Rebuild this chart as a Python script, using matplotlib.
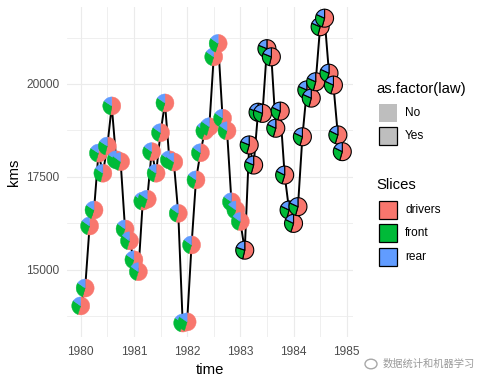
import numpy as np
import matplotlib
matplotlib.use("Agg")
import matplotlib.pyplot as plt
from matplotlib.patches import Wedge, Rectangle, Circle
from matplotlib.transforms import ScaledTranslation

# Seatbelts, Jan 1980 - Dec 1984 (monthly)
years = [1980, 1981, 1982, 1983, 1984]
kms = [
    14030, 14510, 16180, 16610, 18140, 17600, 18330, 19410, 17960, 17910, 16100, 15780,
    15270, 14950, 16850, 16900, 18180, 17600, 18690, 19490, 17960, 17900, 16520, 13570,
    13600, 15670, 17420, 18150, 18740, 18850, 20730, 21090, 19080, 18740, 16830, 16610,
    16300, 15530, 18360, 17820, 19240, 19210, 20950, 20730, 18810, 19270, 17550, 16610,
    16250, 16700, 18580, 19840, 19620, 20060, 21540, 21770, 20290, 19970, 18630, 18180,
]
drivers = [
    1665, 1361, 1506, 1360, 1453, 1522, 1460, 1552, 1548, 1827, 1737, 1941,
    1474, 1458, 1542, 1404, 1522, 1385, 1641, 1510, 1681, 1938, 1868, 1726,
    1456, 1445, 1456, 1365, 1487, 1558, 1488, 1684, 1594, 1850, 1998, 2079,
    1494, 1057, 1218, 1168, 1236, 1076, 1174, 1139, 1427, 1487, 1483, 1513,
    1357, 1165, 1282, 1110, 1297, 1185, 1222, 1284, 1444, 1575, 1737, 1763,
]
front = [
    900, 750, 820, 720, 800, 850, 820, 950, 900, 1020, 960, 1090,
    810, 800, 850, 760, 840, 760, 900, 830, 920, 1060, 1020, 950,
    800, 790, 800, 750, 820, 860, 820, 930, 880, 1020, 1090, 1140,
    820, 520, 600, 580, 620, 540, 600, 580, 720, 760, 750, 770,
    680, 590, 650, 560, 660, 600, 620, 650, 730, 790, 880, 900,
]
rear = [
    460, 380, 420, 390, 420, 440, 430, 470, 450, 500, 480, 530,
    420, 410, 430, 390, 430, 400, 460, 430, 470, 540, 520, 490,
    410, 400, 410, 380, 420, 440, 420, 470, 450, 520, 560, 580,
    420, 390, 420, 400, 430, 380, 410, 400, 470, 490, 480, 500,
    440, 390, 430, 380, 440, 400, 420, 430, 480, 520, 560, 570,
]
law = [0] * 37 + [1] * 23

law_levels = ["No", "Yes"]
slice_names = ["drivers", "front", "rear"]
slice_colors = ["#F8766D", "#00BA38", "#619CFF"]

time = np.array([y + m / 12 for y in years for m in range(12)])

plt.rcParams["font.family"] = ["Liberation Sans", "DejaVu Sans"]

W, H = 480, 384
fig = plt.figure(figsize=(W / 100, H / 100), dpi=100)
ax = fig.add_axes([67 / W, (H - 337) / H, 286 / W, 330 / H])

# ligne reliant les points
ax.plot(time, kms, color="black", lw=1.4, zorder=2)

# camemberts, taille fixe en pixels
r = 0.09
for i in range(len(time)):
    vals = [drivers[i], front[i], rear[i]]
    tot = sum(vals)
    trans = fig.dpi_scale_trans + ScaledTranslation(time[i], kms[i], ax.transData)
    start = 90.0
    for v, c in zip(vals, slice_colors):
        th = 360.0 * v / tot
        if law[i]:
            ec, lw = "black", 0.8
        else:
            ec, lw = c, 0.3
        ax.add_patch(Wedge((0, 0), r, start - th, start, transform=trans,
                           facecolor=c, edgecolor=ec, lw=lw, zorder=3, clip_on=False))
        start -= th

ax.set_xlim(1979.742, 1985.118)
ax.set_ylim(13194, 22071)
ax.set_xticks(years + [1985])
ax.set_xticks([y + 0.5 for y in years], minor=True)
ax.set_yticks([15000, 17500, 20000])
ax.set_yticks([13750, 16250, 18750, 21250], minor=True)
ax.grid(which="major", color="#EBEBEB", lw=0.85)
ax.grid(which="minor", color="#EBEBEB", lw=0.55)
ax.set_axisbelow(True)
for s in ax.spines.values():
    s.set_visible(False)
ax.tick_params(which="both", length=0)
ax.tick_params(axis="y", pad=5.5, labelsize=8.6, labelcolor="#4D4D4D")
ax.tick_params(axis="x", pad=6.5, labelsize=8.6, labelcolor="#4D4D4D")

ax.set_xlabel("time", fontsize=10.7)
ax.set_ylabel("kms", fontsize=10.7)
ax.xaxis.set_label_coords(0.5, (337 - 370) / 330)
ax.yaxis.set_label_coords((14 - 67) / 286, 0.5)
ax.xaxis.label.set_va("center")
ax.yaxis.label.set_va("center")


def fx(px):
    return px / W


def fy(py):
    return (H - py) / H


# légendes
fig.text(fx(376), fy(89), "as.factor(law)", fontsize=10.7, va="center", ha="left")
for k, lev in enumerate(law_levels):
    yc = 112.5 + k * 23.5
    ec = "black" if lev == "Yes" else "none"
    fig.patches.append(Rectangle((fx(378.5), fy(yc + 9)), 18 / W, 18 / H,
                                 transform=fig.transFigure, facecolor="#BEBEBE",
                                 edgecolor=ec, lw=0.9))
    fig.text(fx(405), fy(yc), lev, fontsize=8.6, va="center", ha="left")

fig.text(fx(376), fy(185), "Slices", fontsize=10.7, va="center", ha="left")
for k, (nm, c) in enumerate(zip(slice_names, slice_colors)):
    yc = 210 + k * 23.3
    fig.patches.append(Rectangle((fx(378.5), fy(yc + 9)), 18 / W, 18 / H,
                                 transform=fig.transFigure, facecolor=c,
                                 edgecolor="black", lw=0.9))
    fig.text(fx(405), fy(yc), nm, fontsize=8.6, va="center", ha="left")

# filigrane
fig.patches.append(Circle((fx(371), fy(364)), 6 / W, transform=fig.transFigure,
                          facecolor="none", edgecolor="#A8A8A8", lw=1.0))
fig.text(fx(383), fy(364), "数据统计和机器学习", fontsize=7.4, color="#9A9A9A",
         va="center", ha="left", family=["Noto Sans CJK SC", "DejaVu Sans"])

fig.savefig("out.png", dpi=100)
